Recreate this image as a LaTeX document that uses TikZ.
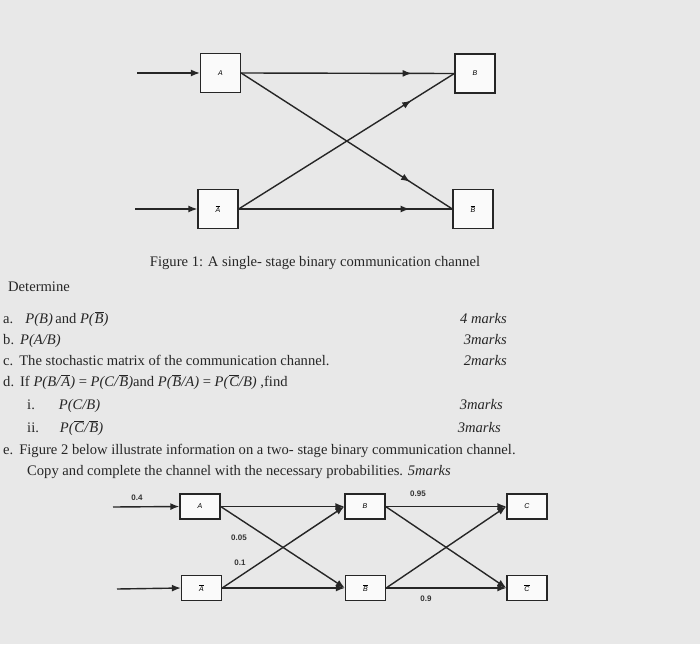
\documentclass[tikz,border=0pt]{standalone}
\usepackage{fontspec}
\setmainfont{Liberation Serif}
\newfontfamily\lblfont{Liberation Sans}
\usetikzlibrary{decorations.markings,arrows.meta}
\newcommand{\ob}[1]{$\overline{\mbox{\itshape #1}}$}
\begin{document}
\begin{tikzpicture}[x=1pt,y=-1pt,
  bx/.style={draw=black!85,line width=1.3pt,fill=white!96!gray,minimum width=40pt,minimum height=39pt,inner sep=0pt,font=\lblfont\fontsize{7}{8}\selectfont\itshape},
  sbx/.style={draw=black!85,line width=1.3pt,fill=white!96!gray,minimum width=40pt,minimum height=25pt,inner sep=0pt,font=\lblfont\fontsize{7}{8}\selectfont\itshape},
  ln/.style={draw=black!85,line width=1.4pt},
  mid/.style={ln,postaction={decorate},decoration={markings,mark=at position #1 with {\arrow{Latex[length=9pt,width=7pt]}}}},
  tip/.style={ln,-{Latex[length=9pt,width=7pt]}},
  txt/.style={anchor=base west,inner sep=0pt,font=\fontsize{14.6}{16}\selectfont,text=black!85},
  mk/.style={anchor=base east,inner sep=0pt,font=\fontsize{14.6}{16}\selectfont\itshape,text=black!85},
  pr/.style={inner sep=0pt,font=\lblfont\bfseries\fontsize{8}{9}\selectfont,text=black!80}]
\fill[gray!18] (0,0) rectangle (700,644);
\useasboundingbox (0,0) rectangle (700,644);
% Figure 1
\node[bx] (A) at (220.5,73) {A};
\node[bx] (B) at (475,73.5) {B};
\node[bx] (Ab) at (218,209) {\ob{A}};
\node[bx] (Bb) at (473,209) {\ob{B}};
\coordinate (iA) at (137,73);
\coordinate (iAb) at (135,209);
\draw[tip] (iA) -- (A.west);
\draw[tip] (iAb) -- (Ab.west);
\draw[mid=0.8] (A.east) -- (B.west);
\draw[mid=0.8] (A.east) -- (Bb.west);
\draw[mid=0.8] (Ab.east) -- (B.west);
\draw[mid=0.8] (Ab.east) -- (Bb.west);
\node[anchor=base,inner sep=0pt,font=\fontsize{14.6}{16}\selectfont,text=black!85] (cap) at (315,266) {Figure 1: A single- stage binary communication channel};
% Text
\node[txt] (det) at (8,291) {Determine};
\node[txt] (ta) at (3,323) {a.\hspace{12pt}\textit{P(B)}\,and \textit{P(}\ob{B}\textit{)}};
\node[mk] (ma) at (507,323) {4 marks};
\node[txt] (tb) at (3,344) {b.\hspace{6pt}\textit{P(A/B)}};
\node[mk] (mb) at (507,344) {3marks};
\node[txt] (tc) at (3,365) {c.\hspace{6pt}The stochastic matrix of the communication channel.};
\node[mk] (mc) at (507,365) {2marks};
\node[txt] (td) at (3,386) {d.\hspace{6pt}If \textit{P(B/}\ob{A}\textit{)} = \textit{P(C/}\ob{B}\textit{)}and \textit{P(}\ob{B}\textit{/A)} = \textit{P(}\ob{C}\textit{/B)} ,find};
\node[txt] (ti) at (27,409) {i.\hspace{24pt}\textit{P(C/B)}};
\node[mk] (mi) at (503,409) {3marks};
\node[txt] (tii) at (27,432) {ii.\hspace{21pt}\textit{P(}\ob{C}\textit{/}\ob{B}\textit{)}};
\node[mk] (mii) at (501,432) {3marks};
\node[txt] (te) at (3,454) {e.\hspace{6pt}Figure 2 below illustrate information on a two- stage binary communication channel.};
\node[txt] (te2) at (27,475) {Copy and complete the channel with the necessary probabilities. \textit{5marks}};
% Figure 2
\node[sbx] (A2) at (200,506.5) {A};
\node[sbx] (B2) at (365,506.5) {B};
\node[sbx] (C2) at (527,506.5) {C};
\node[sbx] (Ab2) at (201.5,588) {\ob{A}};
\node[sbx] (Bb2) at (365.5,588) {\ob{B}};
\node[sbx] (Cb2) at (527,588) {\ob{C}};
\coordinate (iA2) at (113,507);
\coordinate (iAb2) at (117,589);
\draw[tip] (iA2) -- (A2.west);
\draw[tip] (iAb2) -- (Ab2.west);
\draw[tip] (A2.east) -- (B2.west);
\draw[tip] (A2.east) -- (Bb2.west);
\draw[tip] (Ab2.east) -- (B2.west);
\draw[tip] (Ab2.east) -- (Bb2.west);
\draw[tip] (B2.east) -- (C2.west);
\draw[tip] (B2.east) -- (Cb2.west);
\draw[tip] (Bb2.east) -- (C2.west);
\draw[tip] (Bb2.east) -- (Cb2.west);
\node[pr] (p1) at (137,498) {0.4};
\node[pr] (p2) at (418,494) {0.95};
\node[pr] (p3) at (239,538) {0.05};
\node[pr] (p4) at (240,563) {0.1};
\node[pr] (p5) at (426,599) {0.9};
\end{tikzpicture}
\end{document}
